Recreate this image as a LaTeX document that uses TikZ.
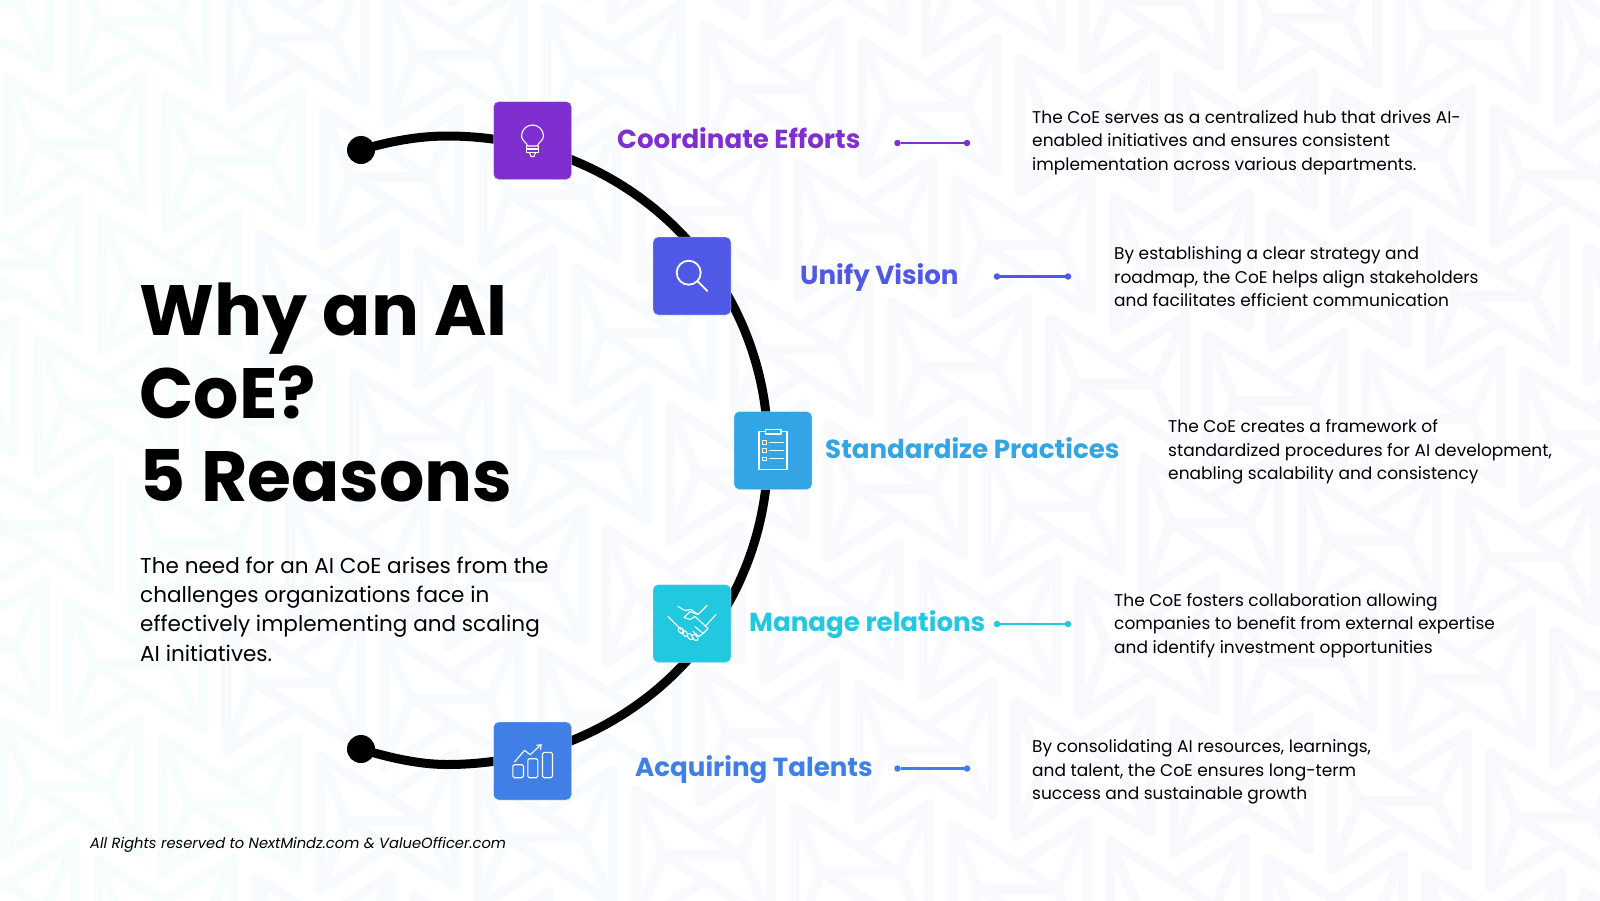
\documentclass[tikz,border=0pt]{standalone}
\usepackage{fontspec}
\setmainfont{Poppins}
\definecolor{cpurple}{HTML}{7F2FD0}
\definecolor{cindigo}{HTML}{5059E6}
\definecolor{csky}{HTML}{33A5E5}
\definecolor{ccyan}{HTML}{22C8E0}
\definecolor{croyal}{HTML}{4080E6}
\definecolor{bgleft}{HTML}{F7FCFD}
\definecolor{bgright}{HTML}{FAF8FD}
\tikzset{
  box/.style={draw=white!70!black!10,line width=0.4pt,rounded corners=5pt,minimum size=78pt,inner sep=0pt},
  icon/.style={draw=white,line width=1.1pt,line cap=round,line join=round},
  spine/.style={draw=black,line width=9pt},
  enddot/.style={circle,fill=black,minimum size=28pt,inner sep=0pt},
  tick/.style={circle,minimum size=6.5pt,inner sep=0pt},
  title/.style={anchor=west,align=left,inner sep=0pt,font=\fontsize{71.2}{83}\selectfont\bfseries},
  body/.style={anchor=west,align=left,inner sep=0pt,font=\fontsize{21.55}{29.3}\selectfont},
  label/.style={anchor=west,inner sep=0pt,font=\fontsize{26.1}{32}\selectfont\bfseries},
  desc/.style={anchor=west,align=left,inner sep=0pt,font=\fontsize{17}{23.5}\selectfont},
  tileline/.style={line width=10pt,line cap=round,line join=round}
}
\begin{document}
\begin{tikzpicture}[x=1pt,y=-1pt]
\useasboundingbox (0,0) rectangle (1600,900);
% background
\begin{scope}
\clip (0,0) rectangle (1600,900);
\foreach \i in {-6,...,13}{
\foreach \j in {-8,...,8}{
\pgfmathsetmacro\sx{\i*158+\j*64}
\pgfmathsetmacro\sy{\i*17-\j*122}
\pgfmathtruncatemacro\pct{max(0,min(100,100-\sx/16))}
\draw[tileline,color=bgleft!\pct!bgright,shift={(\sx,\sy)}]
  (8,78) -- (35,143) -- (8,212) -- cycle
  (143,75) -- (113,143) -- (143,208) -- cycle
  (35,143) -- (113,143)
  (8,78) -- (113,143)
  (35,143) -- (143,208)
  (143,75) -- (75,118)
  (8,212) -- (75,170);
}}
\end{scope}
% arc
\node[enddot] (dottop) at (361,150) {};
\node[enddot] (dotbot) at (361,749) {};
\coordinate (arctop) at (447,136);
\coordinate (arcmid) at (768,450);
\coordinate (arcbot) at (447,764.5);
\draw[spine] (dottop.center) .. controls (390,141) and (420,136) .. (arctop)
  .. controls (627,136) and (768,274.5) .. (arcmid)
  .. controls (768,625.5) and (627,764.5) .. (arcbot)
  .. controls (420,764.5) and (390,758) .. (dotbot.center);
% boxes
\node[box,fill=cpurple] (bulbbox) at (532.5,140.5) {};
\node[box,fill=cindigo] (lensbox) at (692,276) {};
\node[box,fill=csky] (listbox) at (773,450.5) {};
\node[box,fill=ccyan] (handbox) at (692,623.5) {};
\node[box,fill=croyal] (barsbox) at (532.5,761) {};
% icons
\begin{scope}[shift={(bulbbox.center)},icon]
\draw (-5,5.5) .. controls (-5,2) and (-11,0.5) .. (-11,-4.5) arc (180:0:11 and -11) .. controls (11,0.5) and (5,2) .. (5,5.5) -- cycle;
\draw (-6,5.5) -- (-6,8.5) -- (6,8.5) -- (6,5.5);
\draw (-6,8.5) -- (-6,12) -- (6,12) -- (6,8.5);
\draw (-3,12) -- (-1.5,16) -- (1.5,16) -- (3,12);
\end{scope}
\begin{scope}[shift={(lensbox.center)},icon,line width=1.8pt]
\draw (-3.3,-3.3) circle (12);
\draw (6,5.7) -- (15.3,15);
\end{scope}
\begin{scope}[shift={(listbox.center)},icon]
\draw (-14,-19) rectangle (14,18.7);
\draw[fill=csky] (-7.5,-21) rectangle (8,-16.5);
\draw (-10.7,-10) rectangle (-6.7,-6.3) (-10.7,-1.7) rectangle (-6.7,2) (-10.7,6.7) rectangle (-6.7,10.3);
\draw (-3.3,-8) -- (10.7,-8) (-3.3,0) -- (10.7,0) (-3.3,8.3) -- (10.7,8.3);
\end{scope}
\begin{scope}[shift={(handbox.center)},icon]
\draw (-24,-7) -- (-11,6);
\draw (24,-9) -- (13,3);
\draw (-14,-17) -- (-7,-13) -- (-1,-14) -- (6,-9);
\draw (15,-18) -- (6,-9) -- (-2,-12) -- (-8,-6) -- (-2,-4) -- (3,-7) -- (16,5) -- (11,10) -- (3,3);
\draw (11,10) -- (7,13) -- (1,8);
\foreach \fx/\fy in {-11/7,-7/10,-2/13,3/14}{
\draw[rotate around={-50:(\fx,\fy)}] (\fx,\fy) ellipse (3.6 and 2.2);
}
\end{scope}
\begin{scope}[shift={(barsbox.center)},icon]
\draw[rounded corners=1.5pt] (-19.7,3.7) rectangle (-9,16.7);
\draw[rounded corners=1.5pt] (-4.7,-2.3) rectangle (5.3,16.7);
\draw[rounded corners=1.5pt] (10,-8.7) rectangle (20,16.7);
\draw (-18,1) -- (-8,-10.7) -- (-2.3,-6.3) -- (7.7,-15.7);
\draw (4.3,-15.7) -- (8.7,-16.3) -- (8,-11.7);
\end{scope}
% texts
\node[title] (heading) at (139.5,392) {Why an AI\\CoE?\\5 Reasons};
\node[body] (intro) at (140,609) {The need for an AI CoE arises from the\\challenges organizations face in\\effectively implementing and scaling\\AI initiatives.};
\node[label,text=cpurple] (lab1) at (617,138) {Coordinate Efforts};
\node[label,text=cindigo] (lab2) at (800,277) {Unify Vision};
\node[label,text=csky] (lab3) at (825,448) {Standardize Practices};
\node[label,text=ccyan] (lab4) at (749,625) {Manage relations};
\node[label,text=croyal] (lab5) at (635,770) {Acquiring Talents};
\node[desc] (desc1) at (1032,142.5) {The CoE serves as a centralized hub that drives AI-\\enabled initiatives and ensures consistent\\implementation across various departments.};
\node[desc] (desc2) at (1114,277) {By establishing a clear strategy and\\roadmap, the CoE helps align stakeholders\\and facilitates efficient communication};
\node[desc] (desc3) at (1168,452) {The CoE creates a framework of\\standardized procedures for AI development,\\enabling scalability and consistency};
\node[desc] (desc4) at (1114,625.5) {The CoE fosters collaboration allowing\\companies to benefit from external expertise\\and identify investment opportunities};
\node[desc] (desc5) at (1032,772) {By consolidating AI resources, learnings,\\and talent, the CoE ensures long-term\\success and sustainable growth};
\node[anchor=west,inner sep=0pt,font=\fontsize{14.7}{18}\selectfont\itshape] (rights) at (90,845) {All Rights reserved to NextMindz.com \& ValueOfficer.com};
% ticks
\node[tick,fill=cpurple] (t1a) at (897.5,143) {};
\node[tick,fill=cpurple] (t1b) at (967,143) {};
\node[tick,fill=cindigo] (t2a) at (997,276.5) {};
\node[tick,fill=cindigo] (t2b) at (1068,276.5) {};
\node[tick,fill=ccyan] (t4a) at (997,624) {};
\node[tick,fill=ccyan] (t4b) at (1068,624) {};
\node[tick,fill=croyal] (t5a) at (897.5,768.5) {};
\node[tick,fill=croyal] (t5b) at (967,768.5) {};
\draw[cpurple,line width=2.5pt] (t1a) -- (t1b);
\draw[cindigo,line width=2.5pt] (t2a) -- (t2b);
\draw[ccyan,line width=2.5pt] (t4a) -- (t4b);
\draw[croyal,line width=2.5pt] (t5a) -- (t5b);
\end{tikzpicture}
\end{document}
